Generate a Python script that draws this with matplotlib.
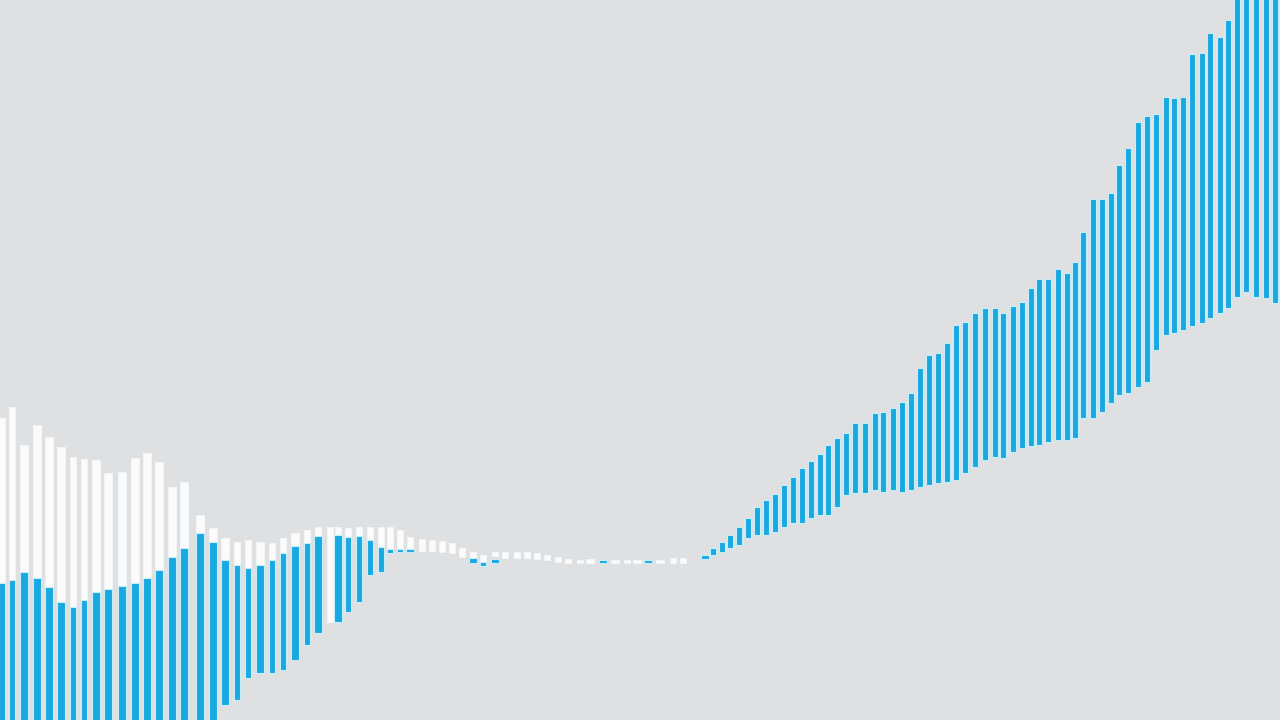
import numpy as np
import matplotlib
matplotlib.use("Agg")
import matplotlib.pyplot as plt

# ---- data (blue range bars) ----
blue_x = [0.2, 1.2, 2.4, 3.7, 4.9, 6.1, 7.3, 8.4, 9.6, 10.8, 12.2, 13.5, 14.7, 15.9, 17.2, 18.4,
          20.0, 21.3, 22.5, 23.7, 24.8, 26.0, 27.2, 28.3, 29.5, 30.7, 31.8, 33.8, 34.8, 35.9,
          37.0, 38.1, 39.0, 40.0, 41.0, 47.3, 48.3, 49.5, 60.3, 64.8,
          70.5, 71.3, 72.2, 73.0, 73.9, 74.8, 75.7, 76.6, 77.5, 78.4, 79.3, 80.2, 81.1, 82.0,
          82.8, 83.7, 84.6, 85.5, 86.5, 87.5, 88.3, 89.3, 90.2, 91.1, 92.0, 92.9, 93.8, 94.7,
          95.6, 96.5, 97.5, 98.5, 99.5, 100.3, 101.3, 102.2, 103.1, 103.9, 104.8, 105.8, 106.7,
          107.5, 108.3, 109.3, 110.2, 111.1, 111.9, 112.8, 113.8, 114.7, 115.6, 116.6, 117.4,
          118.3, 119.2, 120.2, 121.0, 122.0, 122.8, 123.7, 124.6, 125.6, 126.6, 127.5]
blue_hi = [13.7, 14.0, 14.8, 14.2, 13.3, 11.8, 11.3, 12.0, 12.8, 13.1, 13.4, 13.7, 14.2, 15.0, 16.3, 17.2,
           18.7, 17.8, 16.0, 15.5, 15.2, 15.5, 16.0, 16.7, 17.4, 17.7, 18.4, 18.5, 18.3, 18.4,
           18.0, 17.3, 17.1, 17.1, 17.1, 16.2, 15.8, 16.1, 16.0, 16.0,
           16.5, 17.2, 17.8, 18.5, 19.3, 20.2, 21.3, 22.0, 22.6, 23.5, 24.3, 25.2, 25.9, 26.6,
           27.5, 28.2, 28.7, 29.7, 29.7, 30.7, 30.8, 31.2, 31.8, 32.7, 35.2, 36.5, 36.7, 37.7,
           39.5, 39.8, 40.7, 41.2, 41.2, 40.7, 41.4, 41.8, 43.2, 44.1, 44.1, 45.1, 44.7,
           45.8, 48.8, 52.1, 52.1, 52.7, 55.5, 57.2, 59.8, 60.4, 60.6, 62.3, 62.2,
           62.3, 66.6, 66.7, 68.7, 68.3, 70.0, 73.0, 73.0, 73.0, 73.0, 73.0]
blue_lo = [-1, -1, -1, -1, -1, -1, -1, -1, -1, -1, -1, -1, -1, -1, -1, -1,
           -1, -1, 1.5, 2.0, 4.2, 4.7, 4.7, 5.0, 6.0, 7.5, 8.7, 9.8, 10.8, 11.8,
           14.5, 14.8, 16.7, 16.8, 16.8, 15.7, 15.4, 15.7, 15.7, 15.7,
           16.1, 16.5, 16.8, 17.2, 17.5, 18.2, 18.5, 18.5, 18.8, 19.3, 19.7, 19.7, 20.2, 20.5,
           20.5, 21.3, 22.5, 22.7, 22.7, 23.0, 22.8, 23.0, 22.8, 23.0, 23.3, 23.5, 23.7, 23.8,
           24.0, 24.7, 25.3, 26.0, 26.3, 26.2, 26.8, 27.2, 27.4, 27.5, 27.8, 28.0, 28.0,
           28.2, 30.2, 30.2, 30.8, 31.7, 32.5, 32.7, 33.3, 33.8, 37.0, 38.5, 38.7,
           39.0, 39.4, 39.7, 40.2, 40.7, 41.2, 42.3, 42.8, 42.3, 42.2, 41.7]

# ---- data (white range bars) ----
white_x = [0.2, 1.2, 2.4, 3.7, 4.9, 6.1, 7.3, 8.4, 9.6, 10.8, 12.2, 13.5, 14.7, 15.9, 17.2, 18.4,
           20.0, 21.3, 22.5, 23.7, 24.8, 26.0, 27.2, 28.3, 29.5, 30.7, 31.8, 33.0, 33.8, 34.8,
           35.9, 37.0, 38.1, 39.0, 40.0, 41.0, 42.2, 43.2, 44.2, 45.2, 46.2, 47.3, 48.3, 49.5,
           50.5, 51.7, 52.7, 53.7, 54.7, 55.8, 56.8, 58.0, 59.0, 61.5, 62.7, 63.7, 66.0, 67.3, 68.3]
white_lo = [13.7, 14.0, 14.8, 14.2, 13.3, 11.8, 11.3, 12.0, 12.8, 13.1, 13.4, 13.7, 14.2, 15.0, 16.3, 17.2,
            18.7, 17.8, 16.0, 15.5, 15.2, 15.5, 16.0, 16.7, 17.4, 17.7, 18.4, 9.8, 18.5, 18.3,
            18.4, 18.0, 17.3, 17.1, 17.1, 17.0, 16.9, 16.9, 16.8, 16.7, 16.3, 16.2, 15.8, 16.4,
            16.2, 16.2, 16.2, 16.1, 16.0, 15.8, 15.7, 15.7, 15.7, 15.7, 15.7, 15.7, 15.7, 15.7, 15.7]
white_hi = [30.2, 31.3, 27.5, 29.5, 28.3, 27.3, 26.3, 26.1, 26.0, 24.7, 24.8, 26.2, 26.7, 25.8, 23.3, 23.8,
            20.5, 19.2, 18.2, 17.8, 18.0, 17.8, 17.7, 18.2, 18.7, 19.0, 19.3, 19.3, 19.3, 19.2,
            19.3, 19.3, 19.3, 19.3, 19.0, 18.3, 18.1, 18.0, 17.9, 17.7, 17.2, 16.8, 16.5, 16.8,
            16.8, 16.8, 16.8, 16.7, 16.5, 16.3, 16.1, 16.0, 16.1, 16.0, 16.0, 16.0, 16.0, 16.2, 16.2]

BG = "#dfe0e1"
BLUE = "#17a9df"
WHITE = "#fbfbfb"

fig = plt.figure(figsize=(12.8, 7.2), dpi=100)
fig.patch.set_facecolor(BG)
ax = fig.add_axes([0, 0, 1, 1])
ax.set_facecolor(BG)

bx = np.array(blue_x)
wx = np.array(white_x)
bw = 0.6 * np.clip(np.gradient(bx), 0.9, 1.2)
ww = 0.6 * np.clip(np.gradient(wx), 0.9, 1.2)

ax.bar(wx, np.array(white_hi) - np.array(white_lo), bottom=white_lo, width=ww,
       color=WHITE, edgecolor="#f2f7f9", linewidth=0.6, zorder=2)
ax.bar(bx, np.array(blue_hi) - np.array(blue_lo), bottom=blue_lo, width=bw,
       color=BLUE, edgecolor="#c8eefa", linewidth=0.8, zorder=3)

ax.set_xlim(0, 128)
ax.set_ylim(0, 72)
ax.axis("off")

fig.savefig("out.png", dpi=100, facecolor=BG)
